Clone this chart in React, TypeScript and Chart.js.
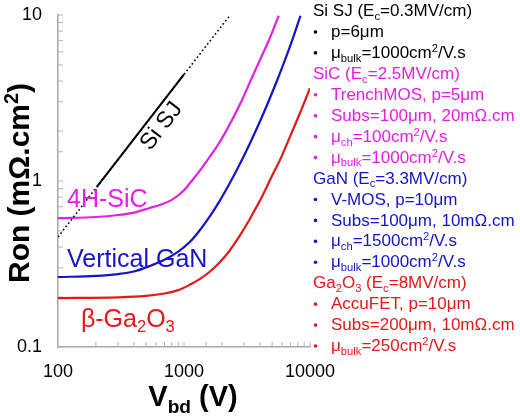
import { useEffect, useRef } from "react";
import { Chart, registerables } from "chart.js";

Chart.register(...registerables);

const FONT = "'Liberation Sans', Arial, Helvetica, sans-serif";

// ---- Data ----
const siDotV = [100, 2300];
const siDotR = [0.46, 9.9];
const siSolidV = [204, 1000];
const siSolidR = [0.924, 4.39];

const sicV = [100, 200, 300, 400, 540, 650, 800, 1000, 1150, 1340, 1580, 1830, 2100, 2450, 2900, 3340, 4000, 4700, 5650];
const sicR = [0.598, 0.607, 0.624, 0.645, 0.69, 0.72, 0.77, 0.88, 1.0, 1.16, 1.38, 1.62, 1.93, 2.4, 3.1, 3.95, 5.35, 7.0, 9.9];

const ganV = [100, 200, 300, 400, 550, 700, 900, 1116, 1340, 1608, 1931, 2318, 2781, 3340, 3900, 4560, 5400, 6336, 7300, 8400];
const ganR = [0.264, 0.268, 0.275, 0.285, 0.31, 0.335, 0.375, 0.43, 0.507, 0.614, 0.765, 0.975, 1.27, 1.69, 2.18, 2.87, 3.92, 5.36, 7.2, 9.9];

const gaoV = [100, 300, 500, 700, 900, 1100, 1340, 1600, 1931, 2300, 2781, 3200, 3528, 4000, 4560, 5100, 5780, 6937, 8300, 10000];
const gaoR = [0.197, 0.199, 0.203, 0.21, 0.22, 0.236, 0.257, 0.284, 0.325, 0.38, 0.47, 0.56, 0.64, 0.76, 0.93, 1.11, 1.34, 1.85, 2.55, 3.63];

const xTickLabels = [100, 1000, 10000];
const yTickLabels = [0.1, 1, 10];

const BLACK = "#000000";
const MAGENTA = "#e41fe4";
const BLUE = "#1414c8";
const RED = "#e41818";

// segment modes: 0 normal, 1 subscript, 2 superscript
type Seg = [string, number];

const legendLines: { color: string; bullet: boolean; segs: Seg[] }[] = [
  { color: BLACK, bullet: false, segs: [["Si SJ (E", 0], ["c", 1], ["=0.3MV/cm)", 0]] },
  { color: BLACK, bullet: true, segs: [["p=6μm", 0]] },
  { color: BLACK, bullet: true, segs: [["μ", 0], ["bulk", 1], ["=1000cm", 0], ["2", 2], ["/V.s", 0]] },
  { color: MAGENTA, bullet: false, segs: [["SiC (E", 0], ["c", 1], ["=2.5MV/cm)", 0]] },
  { color: MAGENTA, bullet: true, segs: [["TrenchMOS, p=5μm", 0]] },
  { color: MAGENTA, bullet: true, segs: [["Subs=100μm, 20mΩ.cm", 0]] },
  { color: MAGENTA, bullet: true, segs: [["μ", 0], ["ch", 1], ["=100cm", 0], ["2", 2], ["/V.s", 0]] },
  { color: MAGENTA, bullet: true, segs: [["μ", 0], ["bulk", 1], ["=1000cm", 0], ["2", 2], ["/V.s", 0]] },
  { color: BLUE, bullet: false, segs: [["GaN (E", 0], ["c", 1], ["=3.3MV/cm)", 0]] },
  { color: BLUE, bullet: true, segs: [["V-MOS, p=10μm", 0]] },
  { color: BLUE, bullet: true, segs: [["Subs=100μm, 10mΩ.cm", 0]] },
  { color: BLUE, bullet: true, segs: [["μ", 0], ["ch", 1], ["=1500cm", 0], ["2", 2], ["/V.s", 0]] },
  { color: BLUE, bullet: true, segs: [["μ", 0], ["bulk", 1], ["=1000cm", 0], ["2", 2], ["/V.s", 0]] },
  { color: RED, bullet: false, segs: [["Ga", 0], ["2", 1], ["O", 0], ["3", 1], [" (E", 0], ["c", 1], ["=8MV/cm)", 0]] },
  { color: RED, bullet: true, segs: [["AccuFET, p=10μm", 0]] },
  { color: RED, bullet: true, segs: [["Subs=200μm, 10mΩ.cm", 0]] },
  { color: RED, bullet: true, segs: [["μ", 0], ["bulk", 1], ["=250cm", 0], ["2", 2], ["/V.s", 0]] },
];

// in-plot labels anchored to data coordinates
const curveLabels: { segs: Seg[]; color: string; v: number; r: number; align: string; angle: number; size: number }[] = [
  { segs: [["4H-SiC", 0]], color: MAGENTA, v: 118, r: 0.79, align: "left", angle: 0, size: 25 },
  { segs: [["Vertical GaN", 0]], color: BLUE, v: 118, r: 0.344, align: "left", angle: 0, size: 25 },
  { segs: [["β-Ga", 0], ["2", 1], ["O", 0], ["3", 1]], color: RED, v: 152, r: 0.15, align: "left", angle: 0, size: 25 },
  { segs: [["Si SJ", 0]], color: BLACK, v: 645, r: 2.17, align: "center", angle: -52.6, size: 23 },
];

function segFont(size: number, mode: number, weight: string) {
  const fs = mode === 0 ? size : size * 0.66;
  return `${weight} ${fs}px ${FONT}`;
}

function richWidth(ctx: CanvasRenderingContext2D, segs: Seg[], size: number, weight: string) {
  let w = 0;
  for (const [t, m] of segs) {
    ctx.font = segFont(size, m, weight);
    w += ctx.measureText(t).width;
  }
  return w;
}

function drawRich(
  ctx: CanvasRenderingContext2D,
  segs: Seg[],
  x: number,
  y: number,
  size: number,
  color: string,
  weight: string,
  align: string
) {
  const total = richWidth(ctx, segs, size, weight);
  let cx = align === "center" ? x - total / 2 : align === "right" ? x - total : x;
  const base = y + size * 0.36;
  ctx.fillStyle = color;
  ctx.textAlign = "left";
  ctx.textBaseline = "alphabetic";
  for (const [t, m] of segs) {
    ctx.font = segFont(size, m, weight);
    const dy = m === 1 ? size * 0.22 : m === 2 ? -size * 0.36 : 0;
    ctx.fillText(t, cx, base + dy);
    cx += ctx.measureText(t).width;
  }
}

function toPts(xs: number[], ys: number[]) {
  return xs.map((x, i) => ({ x, y: ys[i] }));
}

function isLabel(list: number[], v: number) {
  return list.some((t) => Math.abs(t - v) / t < 1e-6);
}

const overlayPlugin = {
  id: "overlay",
  beforeDatasetsDraw(chart: any) {
    const ctx: CanvasRenderingContext2D = chart.ctx;
    const xs = chart.scales.x;
    const ys = chart.scales.y;
    const { left, bottom } = chart.chartArea;
    ctx.save();
    ctx.strokeStyle = "#b4b4b4";
    ctx.lineWidth = 1;
    for (const t of xs.ticks) {
      const px = xs.getPixelForValue(t.value);
      ctx.beginPath();
      ctx.moveTo(px, bottom);
      ctx.lineTo(px, bottom - 5);
      ctx.stroke();
    }
    for (const t of ys.ticks) {
      const py = ys.getPixelForValue(t.value);
      ctx.beginPath();
      ctx.moveTo(left, py);
      ctx.lineTo(left + 5, py);
      ctx.stroke();
    }
    ctx.restore();
  },
  afterDraw(chart: any) {
    const ctx: CanvasRenderingContext2D = chart.ctx;
    const xs = chart.scales.x;
    const ys = chart.scales.y;
    const area = chart.chartArea;
    ctx.save();

    // curve labels
    for (const lb of curveLabels) {
      const px = xs.getPixelForValue(lb.v);
      const py = ys.getPixelForValue(lb.r);
      ctx.save();
      ctx.translate(px, py);
      ctx.rotate((lb.angle * Math.PI) / 180);
      drawRich(ctx, lb.segs, 0, 0, lb.size, lb.color, "normal", lb.align);
      ctx.restore();
    }

    // axis titles
    ctx.save();
    ctx.translate(18, (area.top + area.bottom) / 2 + 2);
    ctx.rotate(-Math.PI / 2);
    drawRich(ctx, [["Ron (mΩ.cm", 0], ["2", 2], [")", 0]], 0, 0, 30, BLACK, "bold", "center");
    ctx.restore();
    drawRich(ctx, [["V", 0], ["bd", 1], [" (V)", 0]], (area.left + area.right) / 2 + 9, 396, 29, BLACK, "bold", "center");

    // right-hand legend text
    const lx = area.right + 3;
    const lineH = 20.94;
    legendLines.forEach((ln, i) => {
      const cy = area.top - 5 + i * lineH;
      if (ln.bullet) {
        ctx.fillStyle = ln.color;
        ctx.beginPath();
        ctx.arc(lx + 2.5, cy + 1, 1.8, 0, Math.PI * 2);
        ctx.fill();
        drawRich(ctx, ln.segs, lx + 18, cy, 17, ln.color, "normal", "left");
      } else {
        drawRich(ctx, ln.segs, lx, cy, 17, ln.color, "normal", "left");
      }
    });

    ctx.restore();
  },
};

export default function App() {
  const canvasRef = useRef<HTMLCanvasElement | null>(null);

  useEffect(() => {
    document.body.style.margin = "0";
    const canvas = canvasRef.current;
    if (!canvas) return;
    Chart.defaults.font.family = FONT;
    const lineStyle = { borderWidth: 2.2, pointRadius: 0, cubicInterpolationMode: "monotone", fill: false };
    const chart = new Chart(canvas, {
      type: "line",
      data: {
        datasets: [
          {
            label: "Si SJ (limit)",
            data: toPts(siDotV, siDotR),
            borderColor: BLACK,
            borderWidth: 1.6,
            borderDash: [1.6, 2.6],
            pointRadius: 0,
            fill: false,
          },
          {
            label: "Si SJ",
            data: toPts(siSolidV, siSolidR),
            borderColor: BLACK,
            borderWidth: 2,
            pointRadius: 0,
            fill: false,
          },
          { label: "4H-SiC", data: toPts(sicV, sicR), borderColor: MAGENTA, ...lineStyle },
          { label: "Vertical GaN", data: toPts(ganV, ganR), borderColor: BLUE, ...lineStyle },
          { label: "β-Ga2O3", data: toPts(gaoV, gaoR), borderColor: RED, ...lineStyle },
        ],
      },
      options: {
        animation: false,
        responsive: false,
        maintainAspectRatio: false,
        layout: { padding: { left: 0, right: 210, top: 15, bottom: 0 } },
        plugins: {
          legend: { display: false },
          tooltip: { enabled: false },
        },
        scales: {
          x: {
            type: "logarithmic",
            min: 100,
            max: 10000,
            grid: { display: false, drawTicks: false },
            border: { display: true, color: "#a8a8a8", width: 1.5 },
            ticks: {
              autoSkip: false,
              maxRotation: 0,
              padding: 14,
              color: BLACK,
              font: { size: 18, family: FONT },
              callback: (v: any) => (isLabel(xTickLabels, Number(v)) ? String(Number(v)) : ""),
            },
            afterFit: (scale: any) => {
              scale.height = 71;
              scale.paddingLeft = 0;
              scale.paddingRight = 0;
            },
          },
          y: {
            type: "logarithmic",
            min: 0.1,
            max: 10,
            grid: { display: false, drawTicks: false },
            border: { display: true, color: "#a8a8a8", width: 1.5 },
            ticks: {
              autoSkip: false,
              padding: 16,
              color: BLACK,
              font: { size: 18, family: FONT },
              callback: (v: any) => (isLabel(yTickLabels, Number(v)) ? String(Number(v)) : ""),
            },
            afterFit: (scale: any) => {
              scale.width = 58;
              scale.paddingTop = 0;
              scale.paddingBottom = 0;
            },
          },
        },
      },
      plugins: [overlayPlugin],
    } as any);
    return () => chart.destroy();
  }, []);

  return (
    <div style={{ position: "absolute", left: 0, top: 0, width: 520, height: 418, background: "#fff" }}>
      <canvas ref={canvasRef} width={520} height={418} style={{ width: 520, height: 418, display: "block" }} />
    </div>
  );
}
